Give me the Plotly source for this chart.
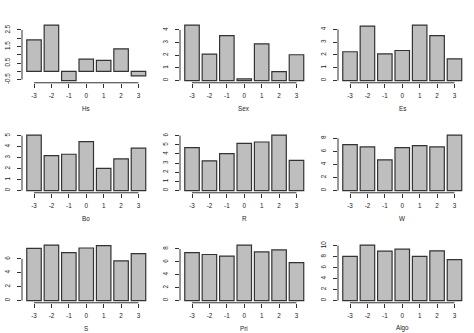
import plotly.graph_objects as go

# Category levels shared by every panel
levels = [-3, -2, -1, 0, 1, 2, 3]

# Bar heights for each variable
hs = [1.90, 2.80, -0.56, 0.74, 0.66, 1.36, -0.28]
sex = [4.39, 2.09, 3.56, 0.13, 2.90, 0.70, 2.04]
es = [2.25, 4.26, 2.09, 2.35, 4.34, 3.51, 1.70]
bo = [5.06, 3.19, 3.31, 4.46, 2.02, 2.89, 3.86]
r_vals = [4.69, 3.25, 4.04, 5.16, 5.31, 6.07, 3.29]
w = [7.04, 6.68, 4.71, 6.58, 6.89, 6.68, 8.50]
s = [7.52, 8.00, 6.90, 7.57, 7.90, 5.71, 6.76]
pri = [7.44, 7.14, 6.89, 8.61, 7.54, 7.85, 5.87]
algo = [8.04, 10.10, 8.99, 9.35, 8.04, 9.05, 7.44]

panel_names = ["Hs", "Sex", "Es", "Bo", "R", "W", "S", "Pri", "Algo"]
panel_values = [hs, sex, es, bo, r_vals, w, s, pri, algo]

# y tick positions and which of them carry a label
y_ticks = [
    [-0.5, 0, 0.5, 1, 1.5, 2, 2.5],
    [0, 1, 2, 3, 4],
    [0, 1, 2, 3, 4],
    [0, 1, 2, 3, 4, 5],
    [0, 1, 2, 3, 4, 5, 6],
    [0, 2, 4, 6, 8],
    [0, 2, 4, 6],
    [0, 2, 4, 6, 8],
    [0, 2, 4, 6, 8, 10],
]
y_labels = [
    ["-0.5", "", "0.5", "", "1.5", "", "2.5"],
    ["0", "1", "2", "3", "4"],
    ["0", "1", "2", "3", "4"],
    ["0", "1", "2", "3", "4", "5"],
    ["0", "1", "2", "3", "4", "5", "6"],
    ["0", "2", "4", "6", "8"],
    ["0", "2", "4", "6"],
    ["0", "2", "4", "6", "8"],
    ["0", "2", "4", "6", "8", "10"],
]

W_PX, H_PX = 474, 333
CELL_W, CELL_H = 158, 111
# plot region inside each cell (pixels)
PL, PR, PT, PB = 22.0, 150.5, 21.0, 81.5

# barplot geometry: width 1, space 0.2
bar_w = 1.0
space = 0.2
centers = [space + bar_w / 2 + i * (bar_w + space) for i in range(len(levels))]
x_lo = space
x_hi = space + len(levels) * (bar_w + space) - space
pad = 0.04 * (x_hi - x_lo)
x_range = [x_lo - pad, x_hi + pad]
x_mid = 0.5 * (centers[0] + centers[-1])

FONT = dict(family="Liberation Sans, Arial, sans-serif", size=6.3, color="#222222")
AXIS_COLOR = "#333333"

fig = go.Figure()
layout = dict(
    width=W_PX,
    height=H_PX,
    margin=dict(l=0, r=0, t=0, b=0),
    paper_bgcolor="white",
    plot_bgcolor="white",
    showlegend=False,
    font=FONT,
)
shapes = []
annotations = []

for k, (name, vals) in enumerate(zip(panel_names, panel_values)):
    row, col = divmod(k, 3)
    idx = "" if k == 0 else str(k + 1)
    xa, ya = "x" + idx, "y" + idx

    fig.add_trace(go.Bar(
        x=centers, y=vals, width=bar_w,
        marker=dict(color="#bebebe", line=dict(color="#333333", width=1.2)),
        xaxis=xa, yaxis=ya, hoverinfo="skip",
    ))

    y_lo = min(0, min(vals))
    y_hi = max(0, max(vals))
    ypad = 0.04 * (y_hi - y_lo)
    y_range = [y_lo - ypad, y_hi + ypad]

    x0 = (col * CELL_W + PL) / W_PX
    x1 = (col * CELL_W + PR) / W_PX
    y1 = 1 - (row * CELL_H + PT) / H_PX
    y0 = 1 - (row * CELL_H + PB) / H_PX

    layout["xaxis" + idx] = dict(
        domain=[x0, x1], range=x_range, anchor=ya,
        tickvals=centers, ticktext=[str(v) for v in levels],
        ticks="outside", ticklen=4, tickwidth=1, tickcolor=AXIS_COLOR,
        showline=False, showgrid=False, zeroline=False, fixedrange=True,
        tickfont=FONT, ticklabelstandoff=3,
    )
    layout["yaxis" + idx] = dict(
        domain=[y0, y1], range=y_range, anchor=xa,
        tickvals=y_ticks[k], ticktext=y_labels[k], tickangle=-90,
        ticks="outside", ticklen=4, tickwidth=1, tickcolor=AXIS_COLOR,
        showline=False, showgrid=False, zeroline=False, fixedrange=True,
        tickfont=FONT, ticklabelstandoff=4,
    )

    # axis lines run from first to last tick only
    shapes.append(dict(
        type="line", xref=xa, yref=ya + " domain",
        x0=centers[0], x1=centers[-1], y0=0, y1=0,
        line=dict(color=AXIS_COLOR, width=1),
    ))
    shapes.append(dict(
        type="line", xref=xa + " domain", yref=ya,
        x0=0, x1=0, y0=y_ticks[k][0], y1=y_ticks[k][-1],
        line=dict(color=AXIS_COLOR, width=1),
    ))

    annotations.append(dict(
        text=name, xref=xa, yref="paper",
        x=x_mid,
        y=1 - (row * CELL_H + 107) / H_PX,
        xanchor="center", yanchor="middle", showarrow=False, font=FONT,
    ))

layout["shapes"] = shapes
layout["annotations"] = annotations
fig.update_layout(**layout)
fig.write_html("out.html")
